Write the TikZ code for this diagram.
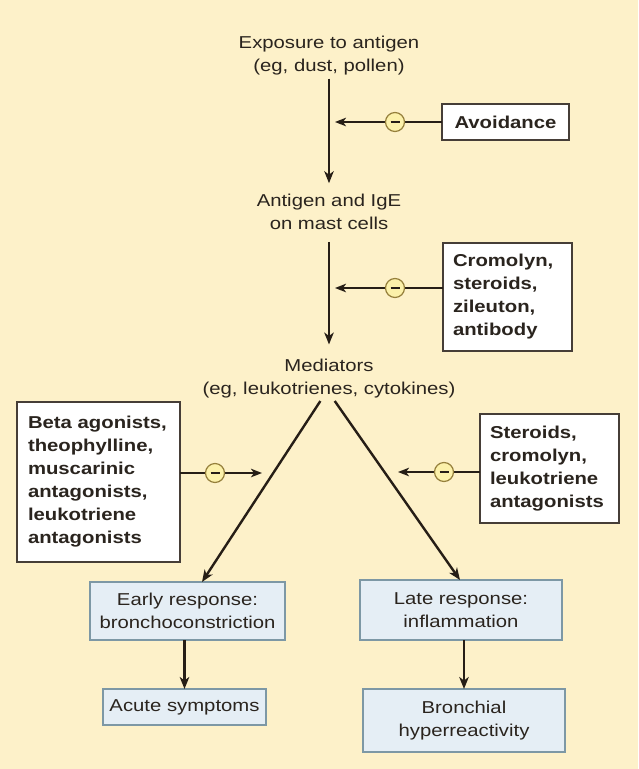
\documentclass[tikz,border=0pt]{standalone}
\usepackage{fontspec}
\setmainfont{Liberation Sans}[FakeStretch=1.18]
\usetikzlibrary{arrows.meta}
\definecolor{bg}{RGB}{253,241,201}
\definecolor{ink}{RGB}{38,30,22}
\definecolor{txt}{RGB}{42,36,30}
\definecolor{drugline}{RGB}{70,62,55}
\definecolor{bluefill}{RGB}{229,238,245}
\definecolor{blueline}{RGB}{125,152,165}
\definecolor{minfill}{RGB}{252,241,170}
\definecolor{minline}{RGB}{150,128,60}
\begin{document}
\begin{tikzpicture}[x=1pt,y=-1pt,
  every node/.style={text=txt},
  plain/.style={align=center, inner sep=0pt, outer sep=0pt, font=\fontsize{17.2}{23}\selectfont},
  drug/.style={draw=drugline, fill=white, line width=1.4pt, align=left, outer sep=0pt,
    font=\fontsize{17.2}{23}\selectfont\bfseries},
  resp/.style={draw=blueline, fill=bluefill, line width=1.4pt, align=center, inner sep=0pt, outer sep=0pt,
    font=\fontsize{17.2}{23}\selectfont},
  arr/.style={draw=ink, line width=2.4pt, -{Stealth[length=12pt,width=9.5pt,inset=3.5pt]}},
  inh/.style={draw=ink, line width=2pt, -{Stealth[length=11pt,width=8.5pt,inset=3pt]}},
  minus/.style={circle, draw=minline, fill=minfill, line width=1.2pt, minimum size=19pt, inner sep=0pt,
    path picture={\draw[ink, line width=1.3pt] ([xshift=-4.5pt]path picture bounding box.center) -- ([xshift=4.5pt]path picture bounding box.center);}}
]
\fill[bg] (0,0) rectangle (638,769);
\useasboundingbox (0,0) rectangle (638,769);

% main chain
\node[plain] (expo) at (329,56) {Exposure to antigen\\(eg, dust, pollen)};
\node[plain] (antigen) at (329,212) {Antigen and IgE\\on mast cells};
\node[plain] (med) at (329,379) {Mediators\\(eg, leukotrienes, cytokines)};

\draw[arr, shorten <=3pt, shorten >=11pt] (expo.south) -- (antigen.north);
\draw[arr, shorten <=12pt, shorten >=15pt] (antigen.south) -- (med.north);

% drug boxes
\node[drug, minimum width=127pt, minimum height=36pt, align=center, inner sep=0pt] (avoid) at (505.5,122) {Avoidance};
\node[drug, text width=109pt, inner xsep=10pt, minimum height=108pt] (crom) at (507.5,297)
  {Cromolyn,\\steroids,\\zileuton,\\antibody};
\node[drug, text width=141pt, inner xsep=11pt, minimum height=160pt] (beta) at (98.5,482)
  {Beta agonists,\\theophylline,\\muscarinic\\antagonists,\\leukotriene\\antagonists};
\node[drug, text width=119pt, inner xsep=10pt, minimum height=109pt] (ster) at (549.5,468.5)
  {Steroids,\\cromolyn,\\leukotriene\\antagonists};

% response boxes
\node[resp, minimum width=195pt, minimum height=58pt] (early) at (187.5,611) {Early response:\\bronchoconstriction};
\node[resp, minimum width=202pt, minimum height=60pt] (late) at (461,610) {Late response:\\inflammation};
\node[resp, minimum width=163pt, minimum height=36pt] (acute) at (184.5,707) {Acute symptoms};
\node[resp, minimum width=202pt, minimum height=63pt] (bronch) at (464,720.5) {Bronchial\\hyperreactivity};

% diagonals
\draw[arr, shorten <=3pt] ([xshift=-7pt]med.south) -- ([xshift=14.5pt]early.north);
\draw[arr, shorten <=3pt] ([xshift=4pt]med.south) -- ([xshift=-1pt]late.north);

% lower arrows
\draw[arr] (early.south -| acute.north) -- (acute.north);
\draw[arr] (late.south -| bronch.north) -- (bronch.north);

% inhibition arrows
\coordinate (t1) at (335,122);
\coordinate (t2) at (335,288);
\coordinate (t3) at (262,473);
\coordinate (t4) at (398,472);
\draw[inh] (avoid.west) -- (t1);
\draw[inh] (crom.west |- t2) -- (t2);
\draw[inh] (beta.east |- t3) -- (t3);
\draw[inh] (ster.west |- t4) -- (t4);
\node[minus] (m1) at (395,122) {};
\node[minus] (m2) at (395,288) {};
\node[minus] (m3) at (215,473) {};
\node[minus] (m4) at (444,472) {};
\end{tikzpicture}
\end{document}
